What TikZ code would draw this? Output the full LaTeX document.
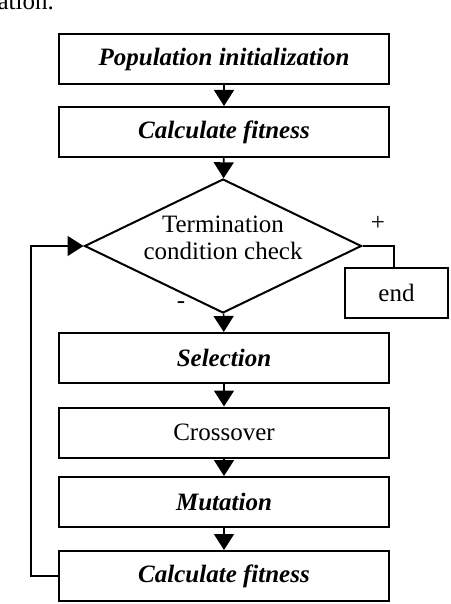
\documentclass[tikz,border=0pt]{standalone}
\usepackage{fontspec}
\setmainfont{Liberation Serif}
\usetikzlibrary{arrows.meta,shapes.geometric,positioning,math}

\begin{document}
\begin{tikzpicture}[x=1pt,y=-1pt]

\tikzmath{
	\W = 330;
	\H = 50;
}

\tikzset{
  stage/.style={draw, line width=2pt,
    minimum width=\W pt, minimum height=\H pt, inner sep=0pt,
    font=\fontsize{25}{27}\selectfont},
  key stage/.style={stage, font=\fontsize{25}{27}\selectfont\bfseries\itshape},
  decision/.style={draw, diamond, line width=2pt, aspect=2.07,
    minimum width=277pt, minimum height=134pt, inner sep=0pt},
  plain text/.style={font=\fontsize{25}{27}\selectfont, inner sep=0pt},
  flow/.style={line width=1.6pt, -{Triangle[length=16pt,width=20pt]}},
  link/.style={line width=1.6pt}
}

\useasboundingbox (0,0) rectangle (450,604);

\node[plain text, anchor=base east] (caption) at (54,10) {ation.};

\node[key stage] (init) at (224,59) {Population initialization};
\node[key stage] (fitness) at (224,132) {Calculate fitness};
\node[decision] (check) at (223,246) {};
\node[plain text, align=center] (checklabel) at ([yshift=8pt]check.center) {Termination\\condition check};
\node[stage, minimum width=103pt] (end) at (396.5,293) {end};
\node[key stage] (select) at (224,358) {Selection};
\node[stage] (cross) at (224,432.5) {Crossover};
\node[key stage] (mutate) at (224,502) {Mutation};
\node[key stage] (fitness2) at (224,576) {Calculate fitness};

\node[plain text] (plus) at (378,223) {+};
\node[plain text] (minus) at (181,305) {-};

\draw[flow] (init) -- (fitness);
\draw[flow] (fitness) -- (check);
\draw[flow] (check) -- (select);
\draw[flow] (select) -- (cross);
\draw[flow] (cross) -- (mutate);
\draw[flow] (mutate) -- (fitness2);
\draw[link] (check.east) -| ([xshift=-2.5pt]end.north);
\draw[flow] (fitness2.west) -- ++(-27,0) |- (check.west);

\end{tikzpicture}
\end{document}
